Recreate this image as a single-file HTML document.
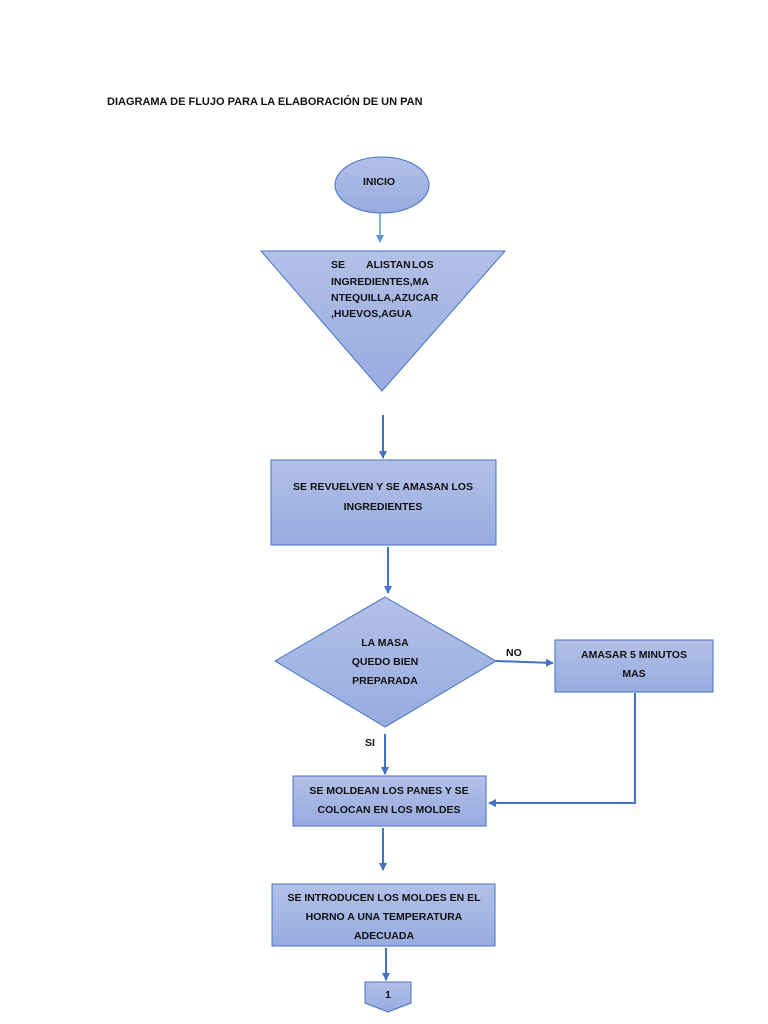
<!DOCTYPE html>
<html><head><meta charset="utf-8"><style>
html,body{margin:0;padding:0;background:#fff;}
svg{display:block;}
text{font-family:"Liberation Sans",sans-serif;font-weight:bold;font-size:10.5px;fill:#111;}
</style></head><body>
<svg width="768" height="1024" viewBox="0 0 768 1024" xmlns="http://www.w3.org/2000/svg">
<defs>
<linearGradient id="g" x1="0" y1="0" x2="0" y2="1"><stop offset="0" stop-color="#b3c1e8"/><stop offset="1" stop-color="#97abdf"/></linearGradient>
<marker id="a" markerWidth="8" markerHeight="8" refX="7" refY="4" orient="auto" markerUnits="userSpaceOnUse"><path d="M0,0 L8,4 L0,8 z" fill="#4472c4"/></marker>
<marker id="b" markerWidth="8" markerHeight="8" refX="7" refY="4" orient="auto" markerUnits="userSpaceOnUse"><path d="M0,0 L8,4 L0,8 z" fill="#5b9bd5"/></marker>
</defs>
<text x="107" y="105" style="font-size:11px">DIAGRAMA DE FLUJO PARA LA ELABORACIÓN DE UN PAN</text>

<ellipse cx="382" cy="185" rx="47" ry="28" fill="url(#g)" stroke="#4472c4"/>
<text x="379" y="185" text-anchor="middle">INICIO</text>
<line x1="380" y1="213" x2="380" y2="242" stroke="#5b9bd5" stroke-width="1.5" marker-end="url(#b)"/>

<polygon points="261,251 505,251 382,391" fill="url(#g)" stroke="#4472c4"/>
<text x="331" y="268">SE</text><text x="366" y="268">ALISTAN</text><text x="412" y="268">LOS</text>
<text x="331" y="285">INGREDIENTES,MA</text>
<text x="331" y="301">NTEQUILLA,AZUCAR</text>
<text x="331" y="317">,HUEVOS,AGUA</text>

<line x1="383" y1="415" x2="383" y2="458" stroke="#4472c4" stroke-width="2" marker-end="url(#a)"/>
<rect x="271" y="460" width="225" height="85" fill="url(#g)" stroke="#4472c4"/>
<text x="383" y="490" text-anchor="middle">SE REVUELVEN Y SE AMASAN LOS</text>
<text x="383" y="510" text-anchor="middle">INGREDIENTES</text>

<line x1="388" y1="547" x2="388" y2="593" stroke="#4472c4" stroke-width="2" marker-end="url(#a)"/>
<polygon points="385,597 496,661 385,727 275,661" fill="url(#g)" stroke="#4472c4"/>
<text x="385" y="646" text-anchor="middle">LA MASA</text>
<text x="385" y="665" text-anchor="middle">QUEDO BIEN</text>
<text x="385" y="684" text-anchor="middle">PREPARADA</text>

<line x1="496" y1="661" x2="553" y2="663" stroke="#4472c4" stroke-width="2" marker-end="url(#a)"/>
<text x="506" y="656">NO</text>
<rect x="555" y="640" width="158" height="52" fill="url(#g)" stroke="#4472c4"/>
<text x="634" y="658" text-anchor="middle">AMASAR 5 MINUTOS</text>
<text x="634" y="677" text-anchor="middle">MAS</text>
<polyline points="635,693 635,803 489,803" fill="none" stroke="#4472c4" stroke-width="2" marker-end="url(#a)"/>

<text x="365" y="746">SI</text>
<line x1="385" y1="734" x2="385" y2="774" stroke="#4472c4" stroke-width="2" marker-end="url(#a)"/>
<rect x="293" y="776" width="193" height="50" fill="url(#g)" stroke="#4472c4"/>
<text x="389" y="794" text-anchor="middle">SE MOLDEAN LOS PANES Y SE</text>
<text x="389" y="813" text-anchor="middle">COLOCAN EN LOS MOLDES</text>

<line x1="383" y1="828" x2="383" y2="870" stroke="#4472c4" stroke-width="2" marker-end="url(#a)"/>
<rect x="272" y="884" width="223" height="62" fill="url(#g)" stroke="#4472c4"/>
<text x="384" y="901" text-anchor="middle">SE INTRODUCEN LOS MOLDES EN EL</text>
<text x="384" y="920" text-anchor="middle">HORNO A UNA TEMPERATURA</text>
<text x="384" y="939" text-anchor="middle">ADECUADA</text>

<line x1="386" y1="948" x2="386" y2="980" stroke="#4472c4" stroke-width="2" marker-end="url(#a)"/>
<polygon points="365,982 411,982 411,1003 388,1012 365,1003" fill="url(#g)" stroke="#4472c4"/>
<text x="388" y="998" text-anchor="middle">1</text>
</svg>
</body></html>
